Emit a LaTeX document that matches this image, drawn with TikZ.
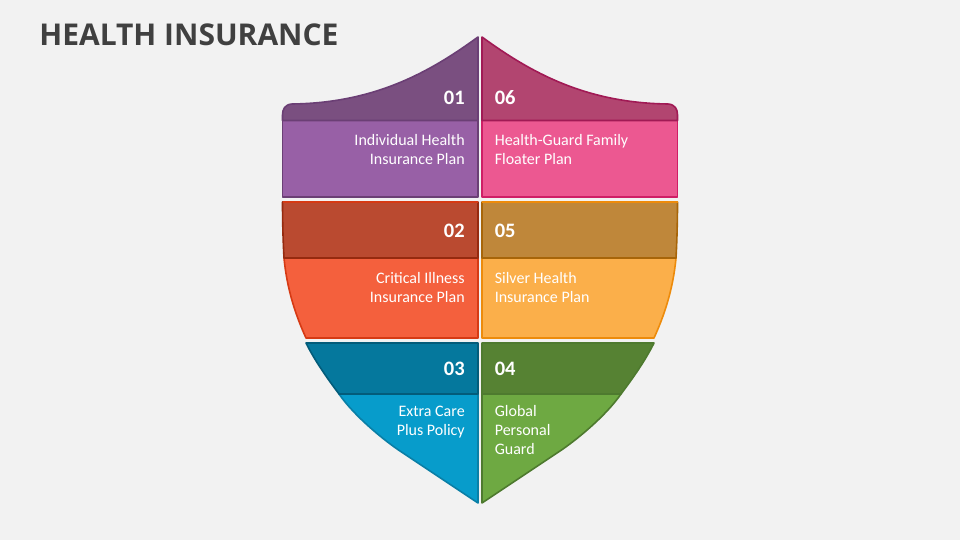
\documentclass[tikz,border=0pt]{standalone}
\usepackage{fontspec}
\setmainfont{Carlito}
\newfontfamily\titlefont{Open Sans}
\usetikzlibrary{positioning}

\definecolor{pageback}{HTML}{F2F2F2}
\definecolor{titlegray}{HTML}{404040}
\definecolor{purplelt}{HTML}{9860A6}
\definecolor{purpledk}{HTML}{7A4F80}
\definecolor{purpleln}{HTML}{6B3F75}
\definecolor{pinklt}{HTML}{EC5891}
\definecolor{pinkdk}{HTML}{B24570}
\definecolor{pinkln}{HTML}{CF1E66}
\definecolor{pinkdl}{HTML}{A11A55}
\definecolor{redlt}{HTML}{F4603D}
\definecolor{reddk}{HTML}{BA4A30}
\definecolor{redln}{HTML}{D63A14}
\definecolor{reddl}{HTML}{962A0F}
\definecolor{orangelt}{HTML}{FBAF4A}
\definecolor{orangedk}{HTML}{BF873A}
\definecolor{orangeln}{HTML}{ED8B0B}
\definecolor{orangedl}{HTML}{A86508}
\definecolor{bluelt}{HTML}{079CCB}
\definecolor{bluedk}{HTML}{05789D}
\definecolor{blueln}{HTML}{0A7FA6}
\definecolor{bluedl}{HTML}{035C7A}
\definecolor{greenlt}{HTML}{6EA942}
\definecolor{greendk}{HTML}{568233}
\definecolor{greenln}{HTML}{4E7A2F}

\begin{document}
\begin{tikzpicture}[x=1pt, y=-1pt, line width=1.6pt, line join=round,
    titletext/.style={anchor=west, inner sep=0pt, text=titlegray, font=\titlefont\bfseries\fontsize{30}{36}\selectfont},
    numl/.style={anchor=east, inner sep=0pt, text=white, font=\bfseries\fontsize{20.5}{24}\selectfont},
    numr/.style={anchor=west, inner sep=0pt, text=white, font=\bfseries\fontsize{20.5}{24}\selectfont},
    descl/.style={anchor=north east, inner sep=0pt, align=right, text=white, font=\fontsize{16}{19}\selectfont},
    descr/.style={anchor=north west, inner sep=0pt, align=left, text=white, font=\fontsize{16}{19}\selectfont}]
    \useasboundingbox (0,0) rectangle (960,540);
    \fill[pageback] (0,0) rectangle (960,540);
    \node[titletext] (title) at (38.5,34.5) {HEALTH INSURANCE};

    % left column
    \draw[color=purpleln, fill=purplelt] (282.5,120.5) rectangle (478,197);
    \draw[color=purpleln, fill=purpledk] (478,37) .. controls (430,72) and (375,103) .. (292,104) .. controls (285,104.5) and (282.5,109) .. (282.5,115) -- (282.5,120.5) -- (478,120.5) -- cycle;
    \draw[color=redln, fill=redlt] (284,258) .. controls (287,290) and (296,316) .. (306,338) -- (478,338) -- (478,258) -- cycle;
    \draw[color=reddl, fill=reddk] (282.5,202) -- (478,202) -- (478,258) -- (284,258) .. controls (283,240) and (282.5,220) .. (282.5,202) -- cycle;
    \draw[color=redln] (282.5,202) -- (478,202);
    \draw[color=blueln, fill=bluelt] (339,394) .. controls (355,417) and (385,441) .. (400,451) -- (478,503) -- (478,394) -- cycle;
    \draw[color=bluedl, fill=bluedk] (306,343) -- (478,343) -- (478,394) -- (339,394) .. controls (327,378) and (315,361) .. (306,343) -- cycle;

    % right column
    \draw[color=pinkln, fill=pinklt] (482,120.5) rectangle (677.5,197);
    \draw[color=pinkdl, fill=pinkdk] (482,37) .. controls (530,72) and (585,103) .. (668,104) .. controls (675,104.5) and (677.5,109) .. (677.5,115) -- (677.5,120.5) -- (482,120.5) -- cycle;
    \draw[color=orangeln, fill=orangelt] (676,258) .. controls (673,290) and (664,316) .. (654,338) -- (482,338) -- (482,258) -- cycle;
    \draw[color=orangedl, fill=orangedk] (677.5,202) -- (482,202) -- (482,258) -- (676,258) .. controls (677,240) and (677.5,220) .. (677.5,202) -- cycle;
    \draw[color=orangeln] (677.5,202) -- (482,202);
    \draw[color=greenln, fill=greenlt] (621,394) .. controls (605,417) and (575,441) .. (560,451) -- (482,503) -- (482,394) -- cycle;
    \draw[color=greenln, fill=greendk] (654,343) -- (482,343) -- (482,394) -- (621,394) .. controls (633,378) and (645,361) .. (654,343) -- cycle;

    % labels
    \node[numl] (num01) at (465.5,98) {01};
    \node[numl] (num02) at (465.5,231) {02};
    \node[numl] (num03) at (465.5,369) {03};
    \node[numr] (num04) at (494,369) {04};
    \node[numr] (num05) at (494,231) {05};
    \node[numr] (num06) at (494,98) {06};
    \node[descl] (desc01) at (465.5,134) {Individual Health\\Insurance Plan};
    \node[descl] (desc02) at (465.5,272) {Critical Illness\\Insurance Plan};
    \node[descl] (desc03) at (465.5,405) {Extra Care\\Plus Policy};
    \node[descr] (desc04) at (494,405) {Global\\Personal\\Guard};
    \node[descr] (desc05) at (494,272) {Silver Health\\Insurance Plan};
    \node[descr] (desc06) at (494,134) {Health-Guard Family\\Floater Plan};
\end{tikzpicture}
\end{document}
